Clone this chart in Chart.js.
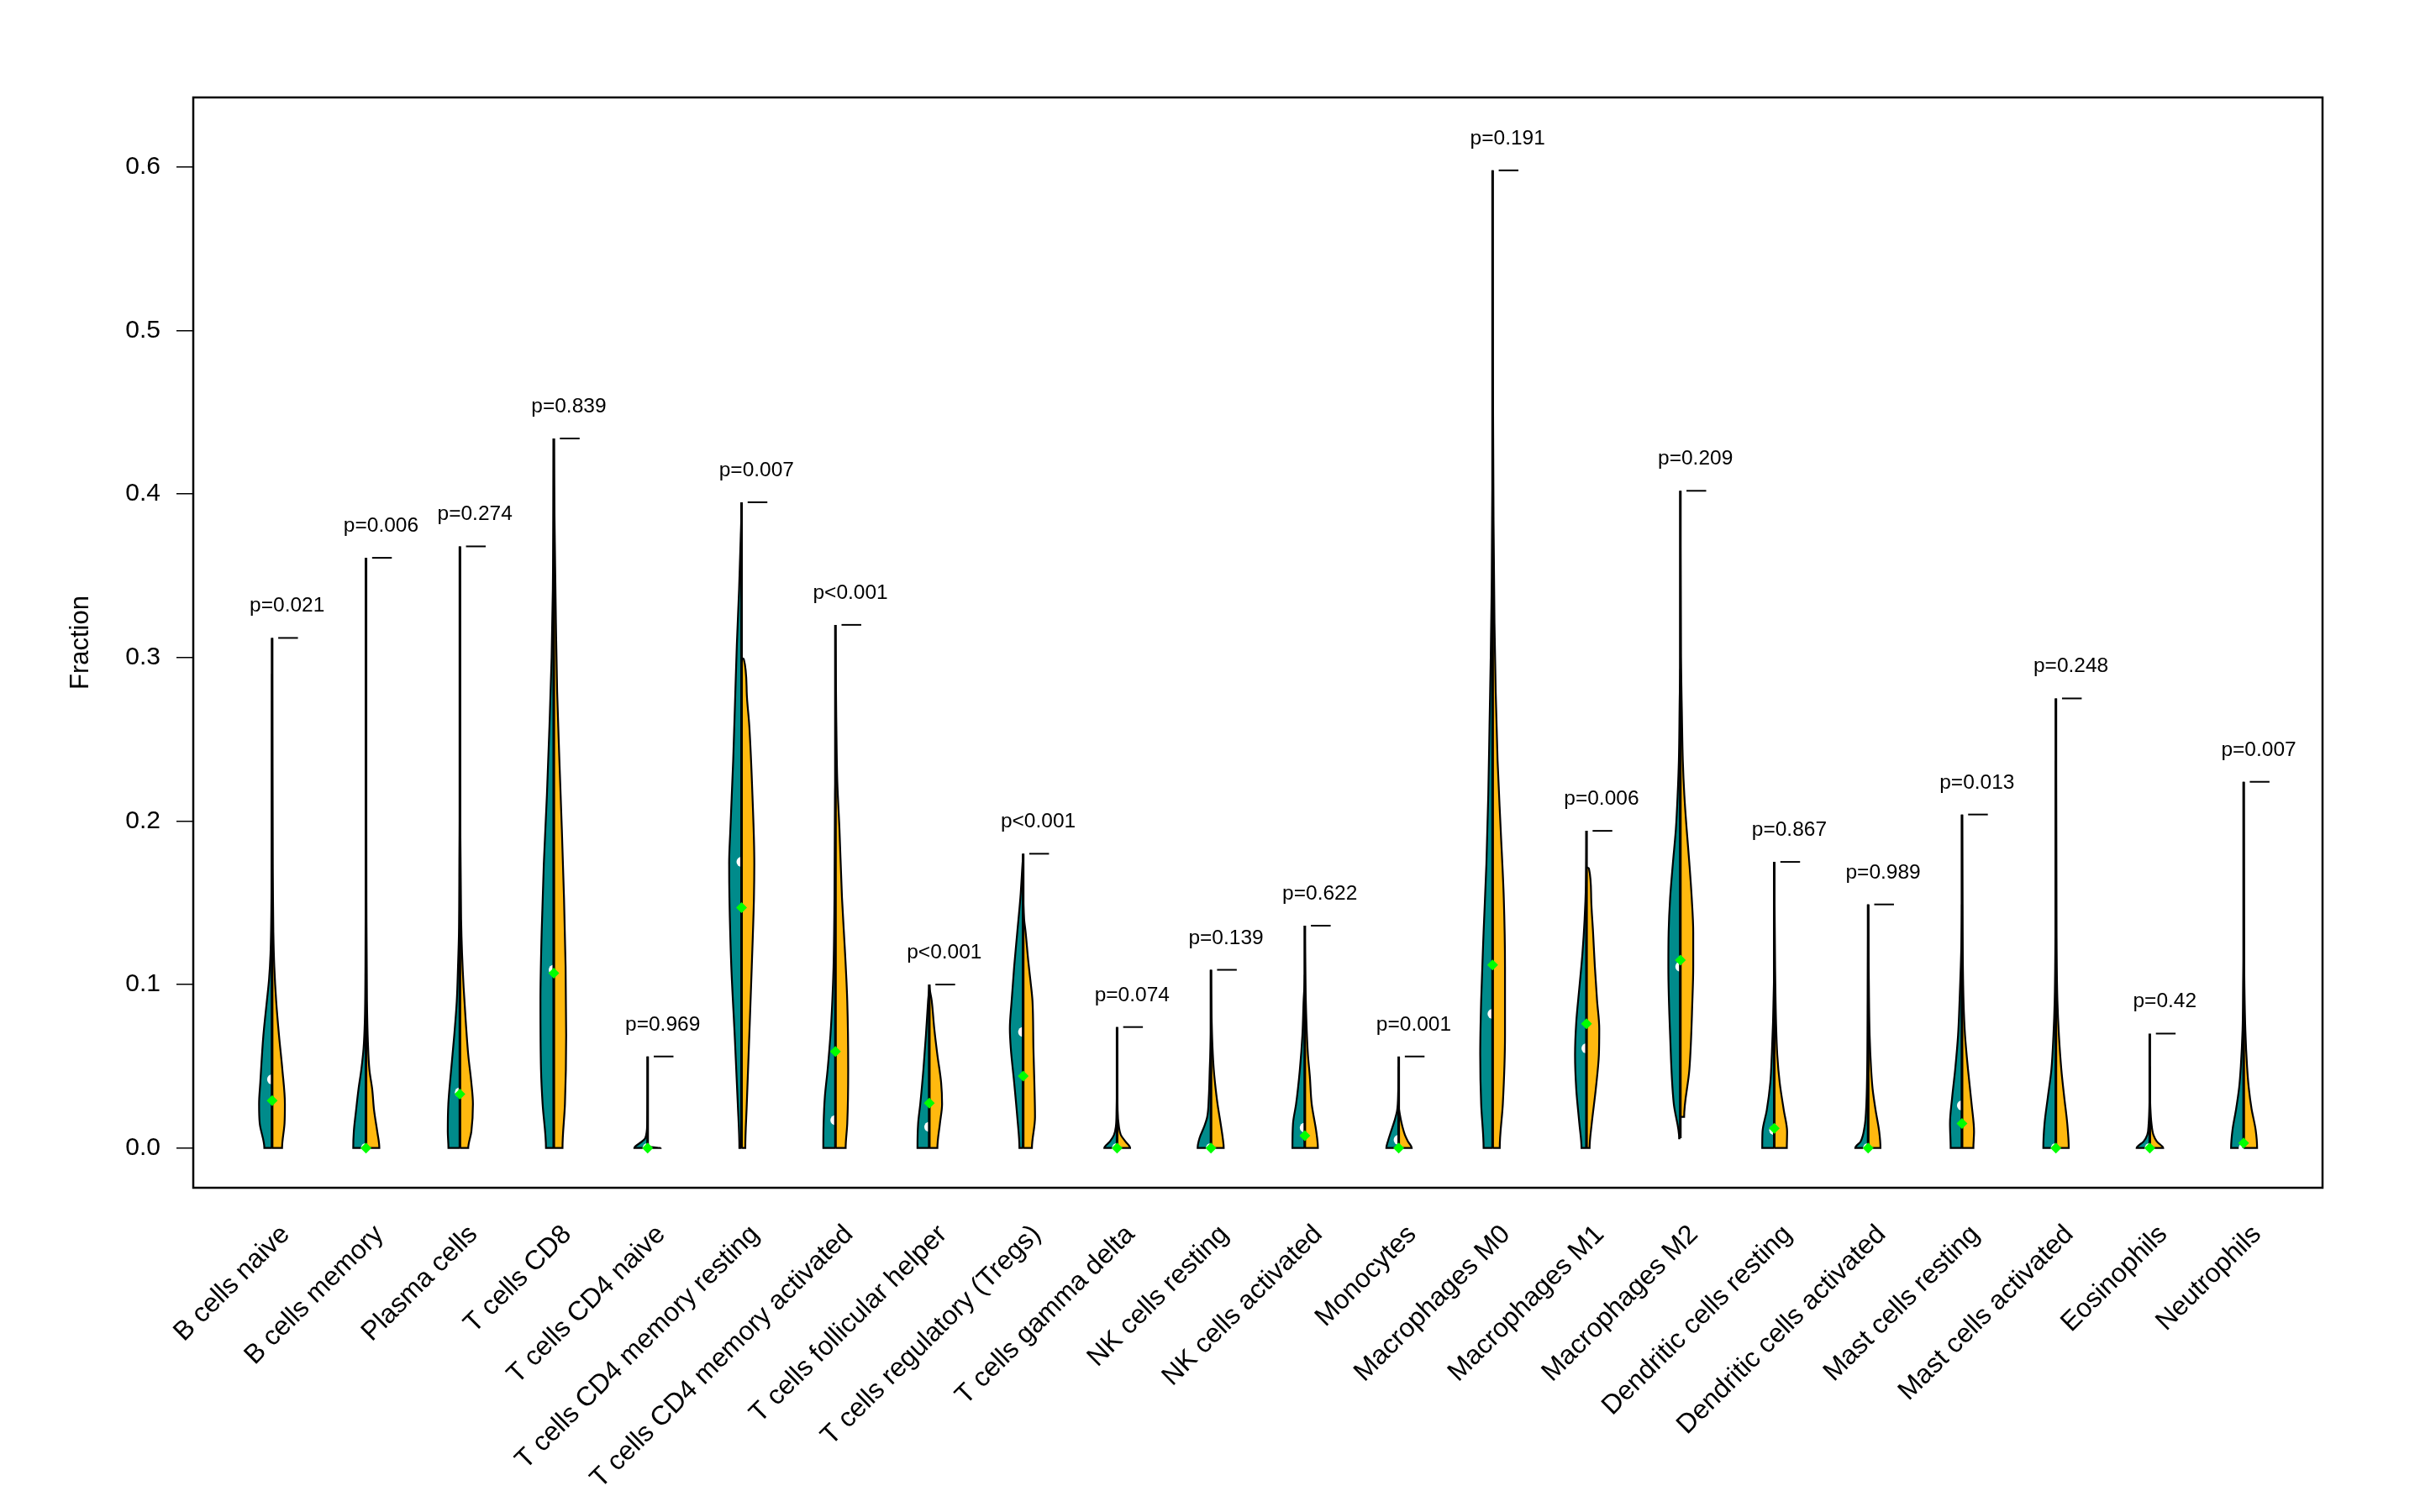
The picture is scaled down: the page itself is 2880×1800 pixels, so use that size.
<!DOCTYPE html>
<html>
<head>
<meta charset="utf-8">
<title>Immune cell fractions</title>
<script src="https://cdn.jsdelivr.net/npm/chart.js@4.4.1/dist/chart.umd.min.js"></script>
<style>
  html, body { margin: 0; padding: 0; background: #fff; }
  #chart { display: block; }
</style>
</head>
<body>
<canvas id="chart" width="2880" height="1800"></canvas>
<script>
const cellTypes = ['B cells naive', 'B cells memory', 'Plasma cells', 'T cells CD8', 'T cells CD4 naive',
  'T cells CD4 memory resting', 'T cells CD4 memory activated', 'T cells follicular helper',
  'T cells regulatory (Tregs)', 'T cells gamma delta', 'NK cells resting', 'NK cells activated',
  'Monocytes', 'Macrophages M0', 'Macrophages M1', 'Macrophages M2', 'Dendritic cells resting',
  'Dendritic cells activated', 'Mast cells resting', 'Mast cells activated', 'Eosinophils', 'Neutrophils'];

const pLabels = ['p=0.021', 'p=0.006', 'p=0.274', 'p=0.839', 'p=0.969', 'p=0.007', 'p<0.001', 'p<0.001',
  'p<0.001', 'p=0.074', 'p=0.139', 'p=0.622', 'p=0.001', 'p=0.191', 'p=0.006', 'p=0.209', 'p=0.867',
  'p=0.989', 'p=0.013', 'p=0.248', 'p=0.42', 'p=0.007'];

// top of each whisker (where the p mark sits)
const maxValues = [0.312, 0.361, 0.368, 0.434, 0.056, 0.395, 0.320, 0.100, 0.180, 0.074, 0.109,
  0.136, 0.056, 0.598, 0.194, 0.402, 0.175, 0.149, 0.204, 0.275, 0.070, 0.224];

const tealMedians = [0.042, 0, 0.034, 0.109, 0, 0.175, 0.017, 0.013, 0.071, 0, 0, 0.0125, 0.005,
  0.082, 0.061, 0.111, 0.011, 0, 0.026, 0, 0, 0];
const orangeMedians = [0.029, 0, 0.033, 0.107, 0, 0.147, 0.059, 0.0275, 0.044, 0, 0, 0.0075, 0,
  0.112, 0.076, 0.115, 0.012, 0, 0.015, 0, 0, 0.003];

const yTicks = [0, 0.1, 0.2, 0.3, 0.4, 0.5, 0.6];

// half violin outlines: [fraction, half width in category units]
const tealProfiles = [
  [[0,0.083],[0.015,0.132],[0.027,0.139],[0.040,0.126],[0.069,0.093],[0.090,0.056],[0.103,0.033],[0.119,0.017],[0.153,0.007],[0.200,0.003],[0.290,0]],
  [[0,0.136],[0.010,0.130],[0.023,0.106],[0.036,0.080],[0.048,0.050],[0.061,0.026],[0.077,0.013],[0.111,0.006],[0.200,0.002],[0.360,0]],
  [[0,0.122],[0.010,0.129],[0.027,0.123],[0.048,0.093],[0.069,0.060],[0.090,0.033],[0.111,0.020],[0.132,0.010],[0.180,0.004],[0.222,0]],
  [[0,0.083],[0.027,0.119],[0.048,0.136],[0.090,0.142],[0.132,0.129],[0.174,0.106],[0.216,0.073],[0.258,0.046],[0.300,0.023],[0.342,0.010],[0.384,0.004],[0.434,0]],
  [[0,0.142],[0.004,0.060],[0.006,0.026],[0.015,0.005],[0.056,0]],
  [[0,0.023],[0.027,0.040],[0.069,0.073],[0.111,0.109],[0.153,0.129],[0.174,0.132],[0.195,0.119],[0.237,0.089],[0.279,0.066],[0.308,0.050],[0.342,0.026],[0.371,0.010],[0.395,0]],
  [[0,0.129],[0.015,0.126],[0.031,0.113],[0.048,0.083],[0.069,0.053],[0.090,0.033],[0.111,0.020],[0.153,0.010],[0.216,0.003],[0.228,0]],
  [[0,0.126],[0.015,0.119],[0.027,0.096],[0.048,0.063],[0.069,0.036],[0.090,0.013],[0.100,0]],
  [[0,0.040],[0.019,0.063],[0.040,0.096],[0.061,0.132],[0.073,0.142],[0.090,0.123],[0.111,0.096],[0.132,0.063],[0.153,0.030],[0.174,0.007],[0.180,0]],
  [[0,0.136],[0.004,0.076],[0.008,0.033],[0.013,0.013],[0.023,0.005],[0.060,0]],
  [[0,0.142],[0.006,0.122],[0.013,0.073],[0.019,0.040],[0.031,0.023],[0.048,0.013],[0.073,0]],
  [[0,0.132],[0.015,0.126],[0.027,0.093],[0.048,0.053],[0.069,0.026],[0.090,0.013],[0.106,0]],
  [[0,0.132],[0.004,0.116],[0.010,0.083],[0.017,0.043],[0.023,0.017],[0.035,0.005],[0.050,0]],
  [[0,0.096],[0.027,0.122],[0.057,0.132],[0.090,0.122],[0.132,0.096],[0.174,0.066],[0.216,0.046],[0.258,0.033],[0.300,0.020],[0.342,0.010],[0.420,0]],
  [[0,0.053],[0.015,0.076],[0.036,0.109],[0.057,0.122],[0.077,0.109],[0.098,0.076],[0.119,0.043],[0.140,0.020],[0.161,0.006],[0.194,0]],
  [[0.006,0.013],[0.027,0.070],[0.069,0.109],[0.111,0.128],[0.132,0.125],[0.153,0.109],[0.174,0.080],[0.195,0.048],[0.216,0.029],[0.237,0.016],[0.279,0.006],[0.293,0]],
  [[0,0.128],[0.010,0.125],[0.023,0.080],[0.040,0.042],[0.057,0.026],[0.077,0.013],[0.100,0.004],[0.120,0]],
  [[0,0.137],[0.004,0.080],[0.013,0.038],[0.023,0.022],[0.048,0.010],[0.090,0.004],[0.149,0]],
  [[0,0.121],[0.015,0.128],[0.031,0.105],[0.048,0.073],[0.069,0.042],[0.090,0.026],[0.111,0.013],[0.149,0]],
  [[0,0.134],[0.015,0.121],[0.031,0.086],[0.048,0.048],[0.069,0.026],[0.090,0.013],[0.132,0.005],[0.237,0]],
  [[0,0.140],[0.004,0.066],[0.008,0.027],[0.015,0.012],[0.025,0.004],[0.050,0]],
  [[0,0.134],[0.011,0.119],[0.024,0.080],[0.037,0.048],[0.050,0.030],[0.072,0.012],[0.100,0.004],[0.120,0]]
];

const orangeProfiles = [
  [[0,0.106],[0.015,0.132],[0.027,0.136],[0.048,0.109],[0.069,0.073],[0.090,0.043],[0.111,0.023],[0.132,0.013],[0.174,0.006],[0.250,0.002],[0.312,0]],
  [[0,0.142],[0.010,0.120],[0.023,0.086],[0.036,0.066],[0.048,0.036],[0.065,0.020],[0.090,0.010],[0.150,0.004],[0.361,0]],
  [[0,0.089],[0.010,0.122],[0.027,0.139],[0.040,0.122],[0.057,0.089],[0.077,0.063],[0.098,0.040],[0.119,0.023],[0.140,0.013],[0.200,0.004],[0.368,0]],
  [[0,0.093],[0.027,0.119],[0.069,0.132],[0.111,0.126],[0.153,0.109],[0.195,0.086],[0.237,0.060],[0.279,0.036],[0.321,0.023],[0.363,0.013],[0.405,0.004],[0.434,0]],
  [[0,0.139],[0.001,0]],
  [[0,0.040],[0.027,0.056],[0.069,0.083],[0.111,0.109],[0.153,0.132],[0.174,0.136],[0.216,0.116],[0.258,0.083],[0.279,0.055],[0.299,0.024],[0.300,0]],
  [[0,0.109],[0.015,0.126],[0.048,0.136],[0.090,0.126],[0.119,0.103],[0.153,0.070],[0.195,0.043],[0.224,0.020],[0.258,0.010],[0.320,0]],
  [[0,0.086],[0.015,0.113],[0.027,0.136],[0.040,0.126],[0.057,0.086],[0.073,0.053],[0.090,0.026],[0.100,0]],
  [[0,0.093],[0.019,0.126],[0.040,0.119],[0.061,0.109],[0.090,0.099],[0.103,0.076],[0.115,0.053],[0.132,0.026],[0.140,0.010],[0.160,0]],
  [[0,0.139],[0.004,0.089],[0.008,0.040],[0.013,0.020],[0.023,0.006],[0.074,0]],
  [[0,0.136],[0.006,0.126],[0.015,0.103],[0.027,0.070],[0.040,0.043],[0.048,0.030],[0.061,0.017],[0.077,0.008],[0.109,0]],
  [[0,0.139],[0.010,0.122],[0.027,0.073],[0.044,0.053],[0.057,0.033],[0.077,0.017],[0.103,0.006],[0.136,0]],
  [[0,0.139],[0.004,0.099],[0.008,0.066],[0.013,0.040],[0.019,0.017],[0.026,0]],
  [[0,0.076],[0.027,0.109],[0.069,0.132],[0.111,0.132],[0.153,0.119],[0.195,0.086],[0.237,0.053],[0.279,0.033],[0.321,0.020],[0.384,0.010],[0.480,0.003],[0.598,0]],
  [[0,0.033],[0.015,0.056],[0.036,0.099],[0.057,0.132],[0.073,0.136],[0.090,0.113],[0.111,0.089],[0.132,0.070],[0.153,0.050],[0.171,0.026],[0.172,0]],
  [[0.019,0.040],[0.048,0.096],[0.090,0.128],[0.111,0.137],[0.132,0.137],[0.153,0.121],[0.174,0.096],[0.195,0.067],[0.216,0.042],[0.237,0.026],[0.266,0.016],[0.300,0.006],[0.402,0]],
  [[0,0.134],[0.010,0.137],[0.023,0.102],[0.040,0.058],[0.057,0.032],[0.077,0.019],[0.111,0.009],[0.175,0]],
  [[0,0.131],[0.010,0.118],[0.023,0.080],[0.036,0.048],[0.048,0.032],[0.069,0.016],[0.111,0.006],[0.149,0]],
  [[0,0.121],[0.010,0.128],[0.027,0.102],[0.048,0.064],[0.069,0.032],[0.090,0.016],[0.132,0.006],[0.204,0]],
  [[0,0.137],[0.015,0.121],[0.031,0.089],[0.048,0.058],[0.069,0.032],[0.090,0.016],[0.132,0.006],[0.275,0]],
  [[0,0.143],[0.004,0.075],[0.008,0.039],[0.015,0.018],[0.025,0.006],[0.040,0]],
  [[0,0.143],[0.011,0.128],[0.024,0.084],[0.037,0.054],[0.050,0.036],[0.072,0.018],[0.110,0.006],[0.224,0]]
];

const TEAL = '#008b8b';
const ORANGE = '#ffb90f';
const FONT = '"Liberation Sans", Arial, Helvetica, sans-serif';

// closed outline of one half: centre bottom -> outer edge -> top -> back down the centre
function halfViolin(i, profile, side) {
  const cx = i + 1;
  const base = profile[0][0];
  const pts = [{x: cx, y: base}];
  profile.forEach(function(p) { pts.push({x: cx + side * p[1], y: p[0]}); });
  pts.push({x: cx, y: base});
  return pts;
}

let datasets = [];
cellTypes.forEach(function(name, i) {
  const bottom = Math.min(tealProfiles[i][0][0], orangeProfiles[i][0][0]);
  datasets.push({
    data: halfViolin(i, tealProfiles[i], -1),
    backgroundColor: TEAL, borderColor: '#000', borderWidth: 2.2,
    fill: 'shape', pointRadius: 0, cubicInterpolationMode: 'monotone', order: 60
  });
  datasets.push({
    data: halfViolin(i, orangeProfiles[i], 1),
    backgroundColor: ORANGE, borderColor: '#000', borderWidth: 2.2,
    fill: 'shape', pointRadius: 0, cubicInterpolationMode: 'monotone', order: 40
  });
  datasets.push({
    data: [{x: i + 1, y: bottom}, {x: i + 1, y: maxValues[i]}],
    borderColor: '#000', borderWidth: 3, fill: false, pointRadius: 0, order: 30
  });
  datasets.push({
    data: [{x: i + 1.065, y: maxValues[i]}, {x: i + 1.275, y: maxValues[i]}],
    borderColor: '#000', borderWidth: 2, fill: false, pointRadius: 0, order: 20
  });
});
datasets.push({
  data: tealMedians.map(function(v, i) { return {x: i + 1, y: v}; }),
  showLine: false, fill: false, pointStyle: 'circle', pointRadius: 6,
  pointBackgroundColor: '#fff', pointBorderWidth: 0, order: 50
});
datasets.push({
  data: orangeMedians.map(function(v, i) { return {x: i + 1, y: v}; }),
  showLine: false, fill: false, pointStyle: 'rectRot', pointRadius: 6.5,
  pointBackgroundColor: '#00ff00', pointBorderWidth: 0, order: 10
});

// p values above each violin + frame round the plot
const annotate = {
  id: 'annotate',
  afterDatasetsDraw: function(chart) {
    const ctx = chart.ctx, xs = chart.scales.x, ys = chart.scales.y;
    ctx.save();
    ctx.fillStyle = '#000';
    ctx.font = '24.5px ' + FONT;
    ctx.textAlign = 'center';
    ctx.textBaseline = 'alphabetic';
    pLabels.forEach(function(t, i) {
      ctx.fillText(t, xs.getPixelForValue(i + 1.16), ys.getPixelForValue(maxValues[i]) - 31);
    });
    const a = chart.chartArea;
    ctx.strokeStyle = '#000';
    ctx.lineWidth = 2.5;
    ctx.strokeRect(a.left, a.top, a.right - a.left, a.bottom - a.top);
    ctx.restore();
  }
};

const ctx = document.getElementById('chart').getContext('2d');
const chart = new Chart(ctx, {
  type: 'line',
  data: { datasets: datasets },
  options: {
    indexAxis: 'y',
    responsive: false,
    animation: false,
    devicePixelRatio: 1,
    events: [],
    layout: { padding: { top: 116, right: 116, left: 0, bottom: 0 } },
    plugins: { legend: { display: false }, tooltip: { enabled: false } },
    scales: {
      x: {
        type: 'linear', min: 0.16, max: 22.84,
        afterBuildTicks: function(s) { s.ticks = cellTypes.map(function(c, i) { return {value: i + 1}; }); },
        afterFit: function(s) { s.height = 386; },
        grid: { display: false, drawTicks: false },
        border: { display: false },
        ticks: {
          autoSkip: false, minRotation: 45, maxRotation: 45, padding: 37, labelOffset: 16, color: '#000',
          font: { family: FONT, size: 32 },
          callback: function(v) { return cellTypes[Math.round(v) - 1]; }
        }
      },
      y: {
        type: 'linear', min: -0.0243, max: 0.6426,
        afterBuildTicks: function(s) { s.ticks = yTicks.map(function(v) { return {value: v}; }); },
        afterFit: function(s) { s.width = 230; },
        grid: { drawOnChartArea: false, drawTicks: true, tickLength: 20, color: '#000', lineWidth: 1.5 },
        border: { display: false },
        ticks: {
          padding: 19, color: '#000', font: { family: FONT, size: 30 },
          callback: function(v) { return v.toFixed(1); }
        },
        title: {
          display: true, text: 'Fraction', color: '#000',
          font: { family: FONT, size: 31 }, padding: { top: 78, bottom: 0 }
        }
      }
    }
  },
  plugins: [annotate]
});
</script>
</body>
</html>
